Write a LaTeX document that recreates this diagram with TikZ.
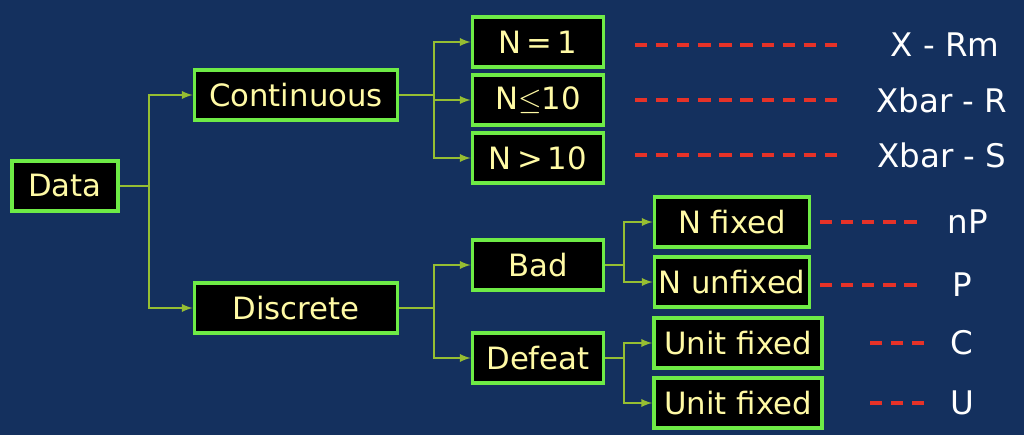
\documentclass[tikz,border=0pt]{standalone}
\usepackage{fontspec}
\setmainfont{DejaVu Sans}
\usepackage{amssymb}
\usetikzlibrary{positioning}
\definecolor{bgblue}{RGB}{20,48,94}
\definecolor{boxgreen}{RGB}{110,235,70}
\definecolor{linkgreen}{RGB}{150,190,50}
\definecolor{textyellow}{RGB}{255,250,165}
\definecolor{dashred}{RGB}{230,50,40}
\tikzset{
	box/.style={
		rectangle,
		draw=boxgreen, line width=2.2pt,
		fill=black,
		text=textyellow,
		font=\fontsize{17.5}{20}\selectfont,
		minimum height=1.0cm,
		inner sep=0pt
	},
	link/.style={linkgreen, line width=1.1pt, ->, >=latex},
	reddash/.style={dashred, line width=1.8pt, dash pattern=on 7pt off 5pt},
	result/.style={text=white, font=\fontsize{18.5}{21}\selectfont}
}
\begin{document}
\begin{tikzpicture}[x=0.02cm,y=-0.02cm]
	\fill[bgblue] (0,0) rectangle (1024,435);
	\useasboundingbox (0,0) rectangle (1024,435);
	% boxes
	\node[box, minimum width=2.12cm] (data) at (65,186) {Data};
	\node[box, minimum width=4.06cm] (cont) at (296,95) {Continuous};
	\node[box, minimum width=4.06cm] (disc) at (296,308) {Discrete};
	\node[box, minimum width=2.62cm] (n1) at (538,42) {N\,=\,1};
	\node[box, minimum width=2.62cm] (n10) at (538,100) {N$\leq$10};
	\node[box, minimum width=2.62cm] (ng10) at (538,158) {N\,>\,10};
	\node[box, minimum width=2.62cm] (bad) at (538,265) {Bad};
	\node[box, minimum width=2.62cm] (defeat) at (538,358) {Defeat};
	\node[box, minimum width=3.10cm] (nfix) at (732,222) {N fixed};
	\node[box, minimum width=3.10cm] (nunfix) at (732,282) {N unfixed};
	\node[box, minimum width=3.36cm] (ufix) at (738,343) {Unit fixed};
	\node[box, minimum width=3.36cm] (ufixb) at (738,403) {Unit fixed};
	% links
	\foreach \a/\b in {data/cont,data/disc}
		\draw[link] (\a.east) -- ++(29,0) |- (\b.west);
	\foreach \a/\b in {cont/n1,cont/n10,cont/ng10,disc/bad,disc/defeat}
		\draw[link] (\a.east) -- ++(35,0) |- (\b.west);
	\foreach \a/\b in {bad/nfix,bad/nunfix,defeat/ufix,defeat/ufixb}
		\draw[link] (\a.east) -- ++(19,0) |- (\b.west);
	% chart types
	\foreach \xa/\xb/\y/\xt/\name/\txt in {
		635/840/45/945/xrm/X - Rm,
		635/840/100/942/xbr/Xbar - R,
		635/840/155/942/xbs/Xbar - S,
		820/925/222/968/np/nP,
		820/925/285/962/p/P,
		870/925/343/962/c/C,
		870/925/403/962/u/U}
	{
		\coordinate (\name a) at (\xa,\y);
		\coordinate (\name b) at (\xb,\y);
		\draw[reddash] (\name a) -- (\name b);
		\node[result] (\name) at (\xt,\y) {\txt};
	}
\end{tikzpicture}
\end{document}
